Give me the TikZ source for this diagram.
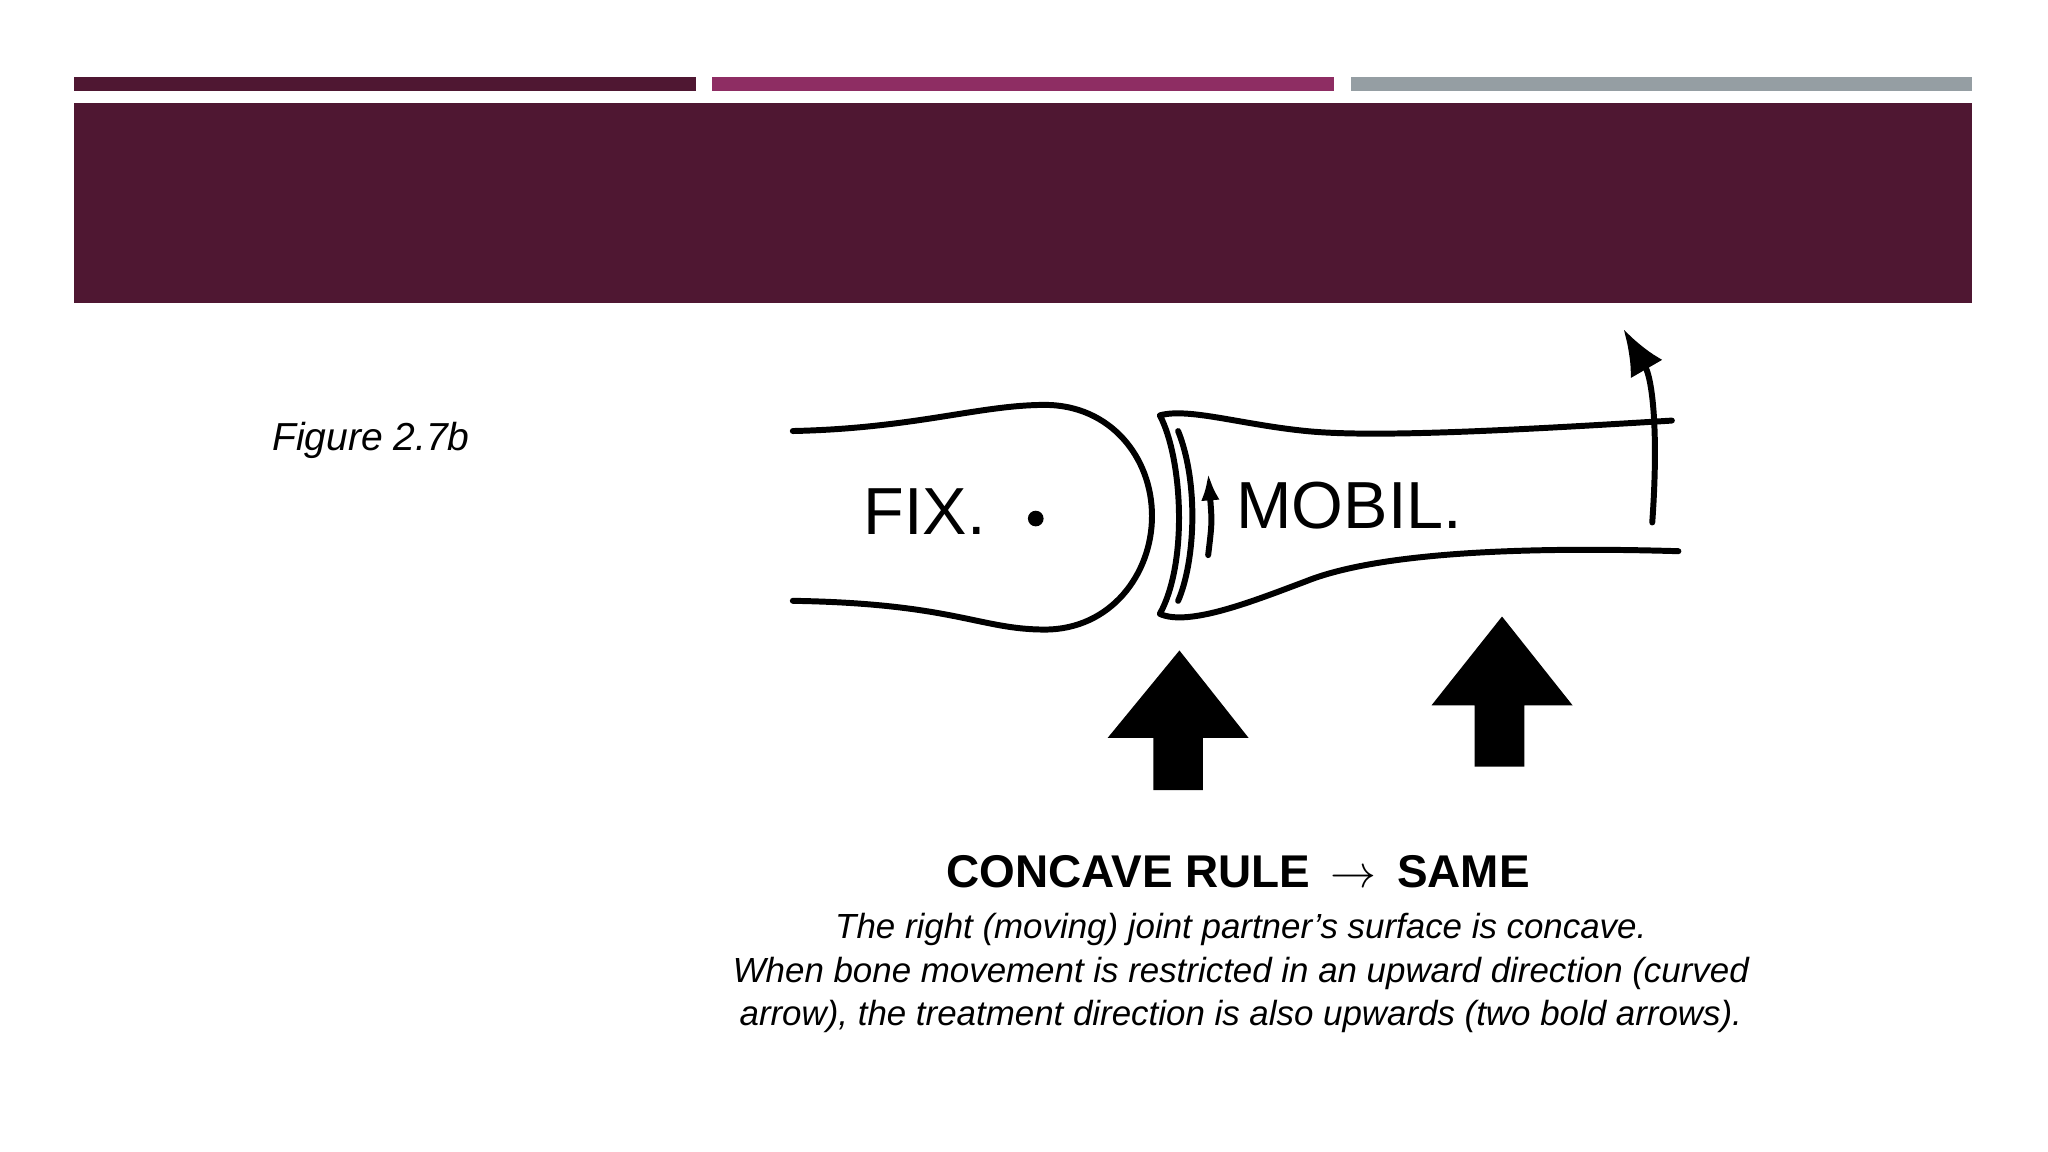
\documentclass[tikz,border=0pt]{standalone}
\usepackage{fontspec}
\setmainfont{Liberation Sans}
\usetikzlibrary{arrows.meta}
\begin{document}
\begin{tikzpicture}[x=0.1mm,y=-0.1mm,
  bone/.style={line width=1.3pt,line cap=round,line join=round},
  blk/.style={fill=black,draw=none}]
\useasboundingbox (0,0) rectangle (1568,882);
\definecolor{wine}{HTML}{4F1732}
\definecolor{mag}{HTML}{8E2D63}
\definecolor{gr}{HTML}{959EA3}
\fill[wine] (57,59) rectangle (533,70);
\fill[mag] (545,59) rectangle (1021,70);
\fill[gr] (1034,59) rectangle (1510,70);
\fill[wine] (57,79) rectangle (1510,232);
\node[font=\fontsize{8.5}{10}\selectfont\itshape] (fig) at (284,337) {Figure 2.7b};
% fixed bone
\draw[bone] (607,330) .. controls (700,328) and (750,310) .. (800,310)
  .. controls (850,310) and (882,350) .. (882,395)
  .. controls (882,440) and (850,482) .. (800,482)
  .. controls (750,482) and (730,462) .. (607,460);
\fill (793,397) circle (6);
\node[font=\fontsize{14.5}{16}\selectfont] (fix) at (708,392) {FIX.};
% mobile bone
\draw[bone] (1280,322) .. controls (1150,330) and (1050,335) .. (1000,330)
  .. controls (950,325) and (910,312) .. (888,318)
  .. controls (905,350) and (910,430) .. (888,470)
  .. controls (910,480) and (960,460) .. (1000,445)
  .. controls (1050,425) and (1150,418) .. (1285,422);
\draw[bone] (902,330) .. controls (918,370) and (915,430) .. (902,460);
\coordinate (sa1) at (925,425); \coordinate (sa2) at (925,362);
\draw[bone,-{Latex[length=6pt,width=4pt]}] (sa1) .. controls (928,400) .. (sa2);
\node[font=\fontsize{14.5}{16}\selectfont] (mob) at (1033,387) {MOBIL.};
\coordinate (ca1) at (1265,400); \coordinate (ca2) at (1243,252);
\draw[bone,-{Latex[length=10pt,width=8pt]}] (ca1) .. controls (1270,330) and (1265,290) .. (ca2);
% block arrows
\fill[blk] (903,498) -- (956,565) -- (921,565) -- (921,605) -- (883,605) -- (883,565) -- (848,565) -- cycle;
\fill[blk] (1150,472) -- (1204,540) -- (1167,540) -- (1167,587) -- (1129,587) -- (1129,540) -- (1096,540) -- cycle;
\node[font=\fontsize{10}{12}\selectfont\bfseries] (rule) at (948,667) {CONCAVE RULE \,\textbf{$\rightarrow$}\, SAME};
\node[font=\fontsize{7.6}{10}\selectfont\itshape,align=center] (cap) at (950,745)
 {The right (moving) joint partner's surface is concave.\\[-0.5pt]
  When bone movement is restricted in an upward direction (curved\\[-0.5pt]
  arrow), the treatment direction is also upwards (two bold arrows).};
\end{tikzpicture}
\end{document}
